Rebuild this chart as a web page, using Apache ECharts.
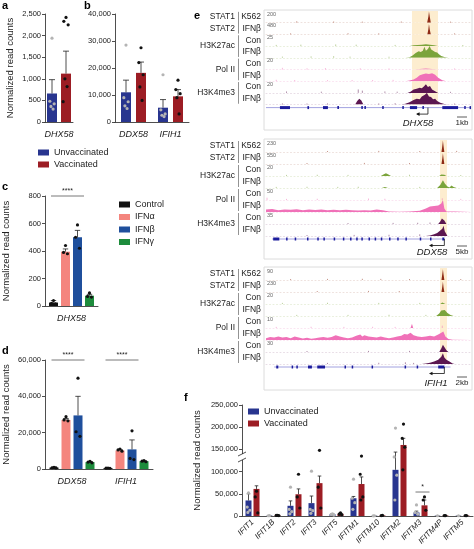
<!DOCTYPE html>
<html>
<head>
<meta charset="utf-8">
<script src="https://cdn.jsdelivr.net/npm/echarts@6/dist/echarts.min.js"></script>
<style>
  html, body { margin: 0; padding: 0; background: #fff; }
  #chart { width: 474px; height: 549px; }
</style>
</head>
<body>
<div id="chart"></div>
<script>
// ---------- data ----------
const vaccGroups = ['Unvaccinated', 'Vaccinated']
const ifnGroups = ['Control', 'IFNα', 'IFNβ', 'IFNγ']

// a
const aCats = ['DHX58']
const aMeans = [[660], [1120]]
const aSems = [[320], [520]]
const aDots = [[[1940, 480, 420, 360, 300]], [[2420, 2330, 2250, 1000, 820, 470]]]

// b
const bCats = ['DDX58', 'IFIH1']
const bMeans = [[11000, 5300], [18200, 9500]]
const bSems = [[4500, 3000], [4000, 2500]]
const bDots = [
  [[28500, 9000, 7500, 6000, 5000], [17500, 4500, 3000, 2500, 2000]],
  [[27500, 22000, 17500, 13000, 8000], [15500, 12000, 10500, 9000, 3000]],
]

// c
const cCats = ['DHX58']
const cMeans = [[25], [395], [500], [75]]
const cSems = [[15], [20], [50], [10]]
const cDots = [[[40, 20, 15]], [[440, 390, 380]], [[590, 500, 420]], [[95, 70, 65]]]

// d
const dCats = ['DDX58', 'IFIH1']
const dMeans = [[800, 500], [27000, 10200], [29500, 10800], [3800, 4300]]
const dSems = [[200, 100], [800, 400], [10500, 5200], [300, 200]]
const dDots = [
  [[900, 700, 600], [500, 450, 400]],
  [[28800, 27000, 26500], [11000, 10500, 9800]],
  [[50000, 20500, 18000], [21000, 5800, 5200]],
  [[4200, 3800, 3400], [4600, 4300, 4000]],
]

// f
const fCats = ['IFIT1', 'IFIT1B', 'IFIT2', 'IFIT3', 'IFIT5', 'IFITM1', 'IFITM10', 'IFITM2', 'IFITM3', 'IFITM4P', 'IFITM5']
const fMeans = [
  [35000, 800, 23000, 29000, 4000, 40000, 500, 104000, 8000, 500, 500],
  [61000, 1500, 49000, 74000, 5000, 72000, 1200, 160000, 24000, 1000, 1000],
]
const fSems = [
  [15000, 300, 11000, 16000, 1500, 4000, 200, 40000, 3000, 200, 200],
  [7000, 400, 12000, 16000, 1500, 16000, 300, 15000, 12000, 300, 300],
]
const fDots = [
  [[52000, 20000, 13000, 8000], [1000, 600], [65000, 15000, 10000, 5000], [101000, 15000, 12000, 6000], [5000, 3500, 2000],
   [83000, 40000, 30000, 15000], [600, 400], [198000, 133000, 92000, 36000], [25000, 8000, 4000], [600], [600]],
  [[56000, 43000, 7000], [1500, 1200, 1000], [94000, 43000, 18000], [148000, 65000, 18000], [7000, 4000, 3000],
   [135000, 94000, 43000, 36000], [1200, 1000], [207000, 175000, 155000, 104000], [43000, 36000, 13000], [1000, 900], [1000, 900]],
]

// significance bars: [category, y, fromGroup, toGroup, label]
const cSig = [[0, 800, 0, 2, '****']]
const dSig = [[0, 60000, 0, 2, '****'], [1, 60000, 0, 2, '****']]
const fSig = [[8, 54000, 0, 1, '*']]

// genome tracks (x: % of window, h: fraction of track scale)
const tracksDHX58 = [
  { profile: [[78.6, 0], [79.2, 0.5], [79.5, 0.95], [79.9, 0.5], [80.4, 0]], spikes: [[15, 0.08], [33, 0.06], [47, 0.05], [66, 0.06], [90, 0.05]] },
  { profile: [[78.7, 0], [79.2, 0.45], [79.5, 0.88], [79.9, 0.4], [80.4, 0]], spikes: [[12, 0.05], [40, 0.06], [55, 0.05], [92, 0.05]] },
  { profile: [[70, 0], [72, 0.08], [74, 0.1], [76, 0.12], [78, 0.15], [80, 0.12], [82, 0.08], [84, 0]], spikes: [[5, 0.06], [17, 0.08], [34, 0.1], [44, 0.08], [63, 0.06], [96, 0.05]] },
  { profile: [[68, 0], [70, 0.05], [71.5, 0.2], [73, 0.4], [74.5, 0.55], [75.5, 0.5], [76.5, 0.6], [77.3, 0.95], [78, 0.6], [79, 0.75], [79.8, 1.0], [80.6, 0.7], [81.5, 0.72], [82.5, 0.5], [83.5, 0.45], [84.5, 0.28], [85.5, 0.15], [87, 0.06], [89, 0]], spikes: [[8, 0.06], [22, 0.08], [33, 0.1], [41, 0.06], [60, 0.05]] },
  { profile: [[72, 0], [75, 0.05], [78, 0.08], [81, 0.05], [84, 0]], spikes: [[8, 0.1], [20, 0.06], [29, 0.08], [46, 0.06], [60, 0.05], [92, 0.05]] },
  { profile: [[68, 0], [70, 0.05], [72, 0.15], [73.5, 0.3], [75, 0.5], [76.5, 0.6], [78, 0.65], [79.5, 0.62], [81, 0.68], [82.5, 0.55], [84, 0.3], [86, 0.08], [88, 0]], spikes: [[5, 0.08], [14, 0.06], [30, 0.05], [42, 0.06], [52, 0.06], [62, 0.07]] },
  { profile: [[69, 0], [70.5, 0.1], [72, 0.3], [73.5, 0.35], [75, 0.45], [76, 0.4], [77, 0.55], [78, 0.75], [79, 0.5], [80, 0.6], [81, 0.3], [82.5, 0.15], [84, 0]], spikes: [[10, 0.08], [27, 0.06], [45, 0.25], [47, 0.15], [58, 0.08], [64, 0.06], [90, 0.05]] },
  { profile: [[43.5, 0], [44.5, 0.3], [45.5, 0.5], [46.5, 0.35], [47.5, 0], [66, 0], [68, 0.08], [70, 0.2], [72, 0.4], [73.5, 0.5], [75, 0.45], [76, 0.7], [77.5, 0.85], [78.5, 1.0], [79.5, 0.7], [80.5, 0.65], [81.5, 0.45], [82.5, 0.5], [83.5, 0.3], [85, 0.15], [87, 0.05], [89, 0]], spikes: [[8, 0.06], [20, 0.05], [30, 0.06], [55, 0.06], [63, 0.08], [92, 0.05]] },
]
const tracksDDX58 = [
  { profile: [[85.6, 0], [86, 0.5], [86.3, 0.95], [86.6, 0.5], [87, 0]], spikes: [[30, 0.04], [55, 0.05], [75, 0.04], [93, 0.05]] },
  { profile: [[85.6, 0], [86, 0.45], [86.3, 0.9], [86.6, 0.45], [87, 0]], spikes: [[20, 0.04], [48, 0.05], [70, 0.04]] },
  { profile: [[56, 0], [57.5, 0.15], [58.5, 0.22], [59.5, 0.15], [61, 0], [84.5, 0], [85.5, 0.12], [86.3, 0.25], [87, 0.1], [88, 0]], spikes: [[10, 0.05], [25, 0.06], [40, 0.05], [70, 0.06], [95, 0.04]] },
  { profile: [[56.5, 0], [58, 0.08], [59.5, 0], [83.5, 0], [85, 0.25], [86.3, 0.65], [87.3, 0.35], [88.5, 0.12], [89.5, 0.05], [90.5, 0.2], [91.5, 0.08], [93, 0]], spikes: [[5, 0.05], [20, 0.06], [35, 0.05], [45, 0.06], [75, 0.05]] },
  { profile: [], spikes: [[0.5, 0.15], [10, 0.05], [25, 0.06], [50, 0.08], [58, 0.06], [86, 0.1], [95, 0.05]] },
  { profile: [[0, 0.2], [3, 0.25], [6, 0.15], [9, 0.2], [12, 0.18], [15, 0.22], [18, 0.15], [21, 0.2], [24, 0.17], [27, 0.2], [30, 0.15], [33, 0.18], [36, 0.14], [39, 0.18], [42, 0.15], [45, 0.12], [48, 0.15], [51, 0.12], [54, 0.2], [57, 0.15], [60, 0.05], [65, 0.03], [70, 0.05], [75, 0.1], [78, 0.3], [80, 0.45], [82, 0.5], [84, 0.55], [85.5, 0.7], [86.3, 1.0], [87, 0.3], [88, 0.05], [92, 0.05], [100, 0.03]], spikes: [] },
  { profile: [[84, 0], [85, 0.2], [85.8, 0.45], [86.4, 0.6], [87, 0.3], [88, 0]], spikes: [[40, 0.04], [62, 0.05], [74, 0.06], [80, 0.08]] },
  { profile: [[78, 0], [80, 0.05], [82, 0.15], [83.5, 0.25], [85, 0.45], [86, 0.6], [86.6, 0.85], [87.2, 0.4], [88.5, 0]], spikes: [[20, 0.04], [43, 0.05], [60, 0.06], [75, 0.1]] },
]
const tracksIFIH1 = [
  { profile: [[85.6, 0], [86, 0.5], [86.3, 0.9], [86.6, 0.45], [87, 0]], spikes: [[12, 0.04], [30, 0.05], [47, 0.06], [56, 0.05], [70, 0.04], [95, 0.04]] },
  { profile: [[85.6, 0], [86, 0.45], [86.3, 0.85], [86.6, 0.4], [87, 0]], spikes: [[25, 0.04], [50, 0.05], [65, 0.04]] },
  { profile: [[85, 0], [86, 0.12], [86.6, 0.18], [87.5, 0]], spikes: [[8, 0.05], [30, 0.06], [55, 0.05], [75, 0.05]] },
  { profile: [[83, 0], [84.5, 0.2], [85.5, 0.45], [86.3, 0.6], [87.2, 0.5], [88.5, 0.25], [90, 0.08], [91.5, 0]], spikes: [[15, 0.05], [40, 0.05], [60, 0.06], [78, 0.05]] },
  { profile: [[70.5, 0], [71.2, 0.35], [71.8, 0]], spikes: [[5, 0.05], [22, 0.06], [38, 0.05], [52, 0.06], [63, 0.05], [86, 0.15]] },
  { profile: [[0, 0.15], [2, 0.25], [4, 0.2], [6, 0.3], [8, 0.2], [10, 0.25], [12, 0.15], [14, 0.3], [16, 0.2], [18, 0.12], [20, 0.18], [22, 0.1], [24, 0.15], [26, 0.2], [28, 0.25], [30, 0.18], [32, 0.25], [34, 0.4], [36, 0.3], [38, 0.2], [40, 0.15], [42, 0.2], [44, 0.35], [46, 0.45], [47, 0.3], [48, 0.4], [50, 0.3], [52, 0.25], [54, 0.2], [56, 0.3], [58, 0.2], [60, 0.15], [62, 0.2], [64, 0.3], [66, 0.35], [67.5, 0.5], [69, 0.45], [70.5, 0.6], [72, 0.4], [74, 0.3], [76, 0.25], [78, 0.3], [80, 0.35], [82, 0.3], [84, 0.45], [85.5, 0.6], [86.5, 0.7], [87.5, 0.3], [89, 0.08], [91, 0.03], [100, 0.02]], spikes: [] },
  { profile: [[84.5, 0], [85.5, 0.3], [86.3, 0.6], [87, 0.5], [88, 0.15], [89, 0]], spikes: [[20, 0.04], [50, 0.05], [70, 0.05]] },
  { profile: [[76, 0], [78, 0.05], [80, 0.1], [82, 0.2], [84, 0.35], [85.5, 0.6], [86.3, 0.9], [87, 0.55], [88, 0.35], [89.5, 0.2], [91, 0.05], [92, 0]], spikes: [[30, 0.05], [55, 0.06], [68, 0.1], [72, 0.05]] },
]

// gene models: exons [from, to], intron span, TSS [x, arrowTo]
const exonsDHX58 = [[6.8, 11.7], [20.2, 21], [27.8, 30.2], [34.8, 35.6], [46.5, 47.2], [48, 48.7], [56.7, 57.4], [66.5, 67.2], [70.2, 73.7], [76.3, 77], [86, 93.7], [96.7, 97.4], [99.3, 100]]
const exonsDDX58 = [[3.5, 6.5], [9.8, 10.5], [14, 14.6], [20, 20.6], [25, 25.6], [28, 28.6], [33, 33.6], [37.5, 38.1], [41, 41.6], [44, 44.6], [46.5, 47.1], [50, 50.6], [53, 53.6], [56, 56.6], [60, 60.6], [64, 64.6], [68, 68.6], [75, 75.6], [80, 80.6], [86, 87]]
const exonsIFIH1 = [[5, 6], [12.5, 13.2], [14.8, 15.5], [20.5, 22.4], [25, 28.8], [38.3, 39], [41.8, 42.4], [51.5, 52.2], [67.6, 68.3], [73.5, 74.2], [84, 87]]
const spanDHX58 = [0, 100], spanDDX58 = [3, 87], spanIFIH1 = [4, 90]
const tssDHX58 = [79, 73.7], tssDDX58 = [87, 80], tssIFIH1 = [87, 80]

const trackGroups = ['STAT1', 'STAT2', 'H3K27ac', 'Pol II', 'H3K4me3']
const trackSubs = ['K562', 'IFNβ', 'Con', 'IFNβ', 'Con', 'IFNβ', 'Con', 'IFNβ']

// ---------- styles ----------
const FONT = 'Liberation Sans'
const INK = '#222'
const vaccColors = ['#28358f', '#9c1d24']
const vaccDotColors = ['#b4b4b4', '#111']
const ifnColors = ['#111', '#f4857e', '#1f4f9c', '#1d8c3c']
const trackColors = ['#8e2a14', '#8e2a14', '#7ba43b', '#7ba43b', '#f071b8', '#f071b8', '#5b1650', '#5b1650']
const baseColors = ['#ead9d4', '#ead9d4', '#e2ebd3', '#e2ebd3', '#f9dded', '#f9dded', '#e2d4df', '#e2d4df']
const fmt = v => String(v).replace(/\B(?=(\d{3})+(?!\d))/g, ',')

const grids = [], xAxes = [], yAxes = [], series = [], graphic = []

const valAxis = (gi, max, interval, nameGap) => ({
  type: 'value', gridIndex: gi, min: 0, max, interval,
  name: 'Normalized read counts', nameLocation: 'middle', nameGap,
  nameTextStyle: { fontSize: 9.5, color: INK, fontFamily: FONT },
  axisLine: { show: true, lineStyle: { color: INK, width: 0.8 } },
  axisTick: { show: true, length: 3, lineStyle: { color: INK, width: 0.8 } },
  axisLabel: { fontSize: 7.5, color: INK, fontFamily: FONT, margin: 4, formatter: fmt },
  splitLine: { show: false },
})
const catAxis = (gi, data, label) => ({
  type: 'category', gridIndex: gi, data,
  axisLine: { lineStyle: { color: INK, width: 0.8 } },
  axisTick: { alignWithLabel: true, length: 3, lineStyle: { color: INK, width: 0.8 } },
  axisLabel: Object.assign({ fontSize: 9, fontStyle: 'italic', color: INK, fontFamily: FONT, margin: 8, interval: 0 }, label),
})

// bar + error + dots for one panel
const jit = [0, -1.2, 1.2, -0.6, 0.6, -1.6, 1.6]
function barPanel(gi, groups, colors, dotColors, means, sems, dots, bw, gap, sig) {
  const n = groups.length
  const offs = groups.map((g, k) => (k - (n - 1) / 2) * (bw + gap))
  groups.forEach((g, k) => {
    const off = offs[k]
    series.push({
      type: 'bar', name: g, xAxisIndex: gi, yAxisIndex: gi, data: means[k],
      barWidth: bw, barGap: (gap / bw * 100) + '%', itemStyle: { color: colors[k] }, z: 2,
    })
    series.push({
      type: 'custom', xAxisIndex: gi, yAxisIndex: gi, z: 3,
      data: means[k].map((m, ci) => [ci, m, m + sems[k][ci]]),
      renderItem: (p, api) => {
        const b = api.coord([api.value(0), api.value(1)])
        const t = api.coord([api.value(0), api.value(2)])
        const x = b[0] + off
        const st = { stroke: INK, lineWidth: 0.8 }
        return { type: 'group', children: [
          { type: 'line', shape: { x1: x, y1: b[1], x2: x, y2: t[1] }, style: st },
          { type: 'line', shape: { x1: x - bw * 0.3, y1: t[1], x2: x + bw * 0.3, y2: t[1] }, style: st },
        ] }
      },
    })
    const pts = []
    dots[k].forEach((vals, ci) => vals.forEach((v, j) => pts.push([ci, v, j])))
    series.push({
      type: 'custom', xAxisIndex: gi, yAxisIndex: gi, z: 4, data: pts,
      renderItem: (p, api) => {
        const c = api.coord([api.value(0), api.value(1)])
        return { type: 'circle', shape: { cx: c[0] + off + jit[api.value(2) % 7] * bw * 0.18, cy: c[1], r: 1.6 }, style: { fill: dotColors[k] } }
      },
    })
  })
  if (sig) {
    series.push({
      type: 'custom', xAxisIndex: gi, yAxisIndex: gi, z: 5, data: sig,
      renderItem: (p, api) => {
        const s = sig[p.dataIndex]
        const c = api.coord([s[0], s[1]])
        const x1 = c[0] + offs[s[2]] - bw / 2 + 2, x2 = c[0] + offs[s[3]] + bw / 2 + 2
        return { type: 'group', children: [
          { type: 'line', shape: { x1, y1: c[1], x2, y2: c[1] }, style: { stroke: '#555', lineWidth: 0.8 } },
          { type: 'text', x: (x1 + x2) / 2, y: c[1] - 1, style: { text: s[4], fontSize: 7, fill: INK, align: 'center', verticalAlign: 'bottom', fontFamily: FONT } },
        ] }
      },
    })
  }
}

// panel a
grids.push({ left: 45, top: 14, width: 28, height: 108 })
xAxes.push(catAxis(0, aCats))
yAxes.push(valAxis(0, 2500, 500, 30))
barPanel(0, vaccGroups, vaccColors, vaccDotColors, aMeans, aSems, aDots, 10, 4)

// panel b
grids.push({ left: 115, top: 14, width: 74, height: 108 })
xAxes.push(catAxis(1, bCats))
yAxes.push(Object.assign(valAxis(1, 40000, 10000, 30), { name: '' }))
barPanel(1, vaccGroups, vaccColors, vaccDotColors, bMeans, bSems, bDots, 10, 5)

// panel c
grids.push({ left: 45, top: 196, width: 53, height: 110 })
xAxes.push(catAxis(2, cCats))
yAxes.push(valAxis(2, 800, 200, 34))
barPanel(2, ifnGroups, ifnColors, ifnColors.map(() => '#111'), cMeans, cSems, cDots, 9, 3, cSig)

// panel d
grids.push({ left: 45, top: 360, width: 108, height: 109 })
xAxes.push(catAxis(3, dCats))
yAxes.push(valAxis(3, 60000, 20000, 34))
barPanel(3, ifnGroups, ifnColors, ifnColors.map(() => '#111'), dMeans, dSems, dDots, 9, 3, dSig)

// panel f
grids.push({ left: 242, top: 405, width: 231, height: 111 })
xAxes.push(catAxis(4, fCats, { rotate: 45, fontSize: 8, margin: 5 }))
yAxes.push(valAxis(4, 250000, 50000, 40))
barPanel(4, vaccGroups, vaccColors, vaccDotColors, fMeans, fSems, fDots, 6, 2, fSig)

// ---------- genome browser blocks ----------
const blocks = [
  { top: 10, bottom: 130, rowH: 11.7, tracks: tracksDHX58, band: [71.2, 83.9], scales: ['200', '480', '25', '', '20', '', '20', ''], exons: exonsDHX58, span: spanDHX58, tss: tssDHX58, gene: 'DHX58', geneX: 418, bar: '1kb' },
  { top: 139, bottom: 259, rowH: 12, tracks: tracksDDX58, band: [84.9, 88.3], scales: ['230', '550', '20', '', '50', '', '35', ''], exons: exonsDDX58, span: spanDDX58, tss: tssDDX58, gene: 'DDX58', geneX: 432, bar: '5kb' },
  { top: 267, bottom: 390, rowH: 12, tracks: tracksIFIH1, band: [84.9, 88.3], scales: ['90', '230', '20', '', '10', '', '30', ''], exons: exonsIFIH1, span: spanIFIH1, tss: tssIFIH1, gene: 'IFIH1', geneX: 436, bar: '2kb' },
]
const TX = 266, TW = 205
const txt = (text, x, y, o) => ({ type: 'text', x, y, z: 50, silent: true, style: Object.assign({ text, fontSize: 8.5, fill: INK, fontFamily: FONT, align: 'right', verticalAlign: 'middle' }, o) })

blocks.forEach(bk => {
  graphic.push({ type: 'rect', z: 0, silent: true, shape: { x: 264, y: bk.top, width: 208, height: bk.bottom - bk.top }, style: { fill: 'none', stroke: '#dcdcdc', lineWidth: 1 } })
  bk.tracks.forEach((trk, r) => {
    const gi = grids.length
    const top = bk.top + 1 + r * bk.rowH
    grids.push({ left: TX, top, width: TW, height: bk.rowH })
    xAxes.push({ type: 'value', gridIndex: gi, min: 0, max: 100, axisLabel: { show: false }, axisTick: { show: false }, splitLine: { show: false }, axisLine: { show: true, lineStyle: { color: baseColors[r], width: 0.8, type: [1, 2.5] } } })
    yAxes.push({ type: 'value', gridIndex: gi, min: 0, max: 1, show: false })
    series.push({
      type: 'line', xAxisIndex: gi, yAxisIndex: gi, z: 3, symbol: 'none',
      data: trk.profile.length ? trk.profile : [[0, 0], [100, 0]],
      lineStyle: { width: 0 }, areaStyle: { color: trackColors[r], opacity: 1 },
      markArea: { silent: true, itemStyle: { color: '#fdedcf' }, data: [[{ xAxis: bk.band[0] }, { xAxis: bk.band[1] }]] },
    })
    series.push({
      type: 'custom', xAxisIndex: gi, yAxisIndex: gi, z: 3, data: trk.spikes,
      renderItem: (p, api) => {
        const a = api.coord([api.value(0), 0]), b = api.coord([api.value(0), api.value(1)])
        return { type: 'line', shape: { x1: a[0], y1: a[1], x2: b[0], y2: b[1] - 0.5 }, style: { stroke: trackColors[r], lineWidth: 0.7, opacity: 0.7 } }
      },
    })
    if (bk.scales[r]) graphic.push(txt(bk.scales[r], 267, top + 3, { fontSize: 5.5, fill: '#666', align: 'left' }))
    graphic.push(txt(trackSubs[r], 261, top + bk.rowH / 2))
  })
  // left group labels and bars
  const rowC = r => bk.top + 1 + r * bk.rowH + bk.rowH / 2
  graphic.push(txt('STAT1', 235, rowC(0)), txt('STAT2', 235, rowC(1)))
  ;[[0, 1], [2, 3], [4, 5], [6, 7]].forEach(([r0, r1], i) => {
    graphic.push({ type: 'line', silent: true, z: 50, shape: { x1: 238.5, y1: rowC(r0) - 5, x2: 238.5, y2: rowC(r1) + 5 }, style: { stroke: '#777', lineWidth: 0.8 } })
    if (i > 0) graphic.push(txt(trackGroups[i + 1], 235, (rowC(r0) + rowC(r1)) / 2))
  })
  // gene model row
  const gi = grids.length
  grids.push({ left: TX, top: bk.top + 1 + 8 * bk.rowH, width: TW, height: 10 })
  xAxes.push({ type: 'value', gridIndex: gi, min: 0, max: 100, show: false })
  yAxes.push({ type: 'value', gridIndex: gi, min: 0, max: 1, show: false })
  series.push({ type: 'line', xAxisIndex: gi, yAxisIndex: gi, symbol: 'none', data: [[bk.span[0], 0.7], [bk.span[1], 0.7]], lineStyle: { color: '#8a8ad8', width: 0.8 }, z: 3 })
  series.push({
    type: 'custom', xAxisIndex: gi, yAxisIndex: gi, z: 4, data: bk.exons,
    renderItem: (p, api) => {
      const a = api.coord([api.value(0), 0.7]), b = api.coord([api.value(1), 0.7])
      return { type: 'rect', shape: { x: a[0], y: a[1] - 1.5, width: Math.max(1.5, b[0] - a[0]), height: 3 }, style: { fill: '#1c1c9c' } }
    },
  })
  series.push({
    type: 'custom', xAxisIndex: gi, yAxisIndex: gi, z: 4, data: [bk.tss],
    renderItem: (p, api) => {
      const a = api.coord([api.value(0), 0.7]), b = api.coord([api.value(1), 0.05])
      return { type: 'group', children: [
        { type: 'polyline', shape: { points: [[a[0], a[1]], [a[0], b[1]], [b[0], b[1]]] }, style: { stroke: '#111', lineWidth: 0.8, fill: 'none' } },
        { type: 'polygon', shape: { points: [[b[0] - 1, b[1]], [b[0] + 2.5, b[1] - 1.8], [b[0] + 2.5, b[1] + 1.8]] }, style: { fill: '#111' } },
      ] }
    },
  })
  graphic.push(txt(bk.gene, bk.geneX, bk.bottom - 7, { align: 'center', fontStyle: 'italic', fontSize: 9.5 }))
  graphic.push({ type: 'line', silent: true, z: 50, shape: { x1: 457, y1: bk.bottom - 13, x2: 467, y2: bk.bottom - 13 }, style: { stroke: '#333', lineWidth: 0.8 } })
  graphic.push(txt(bk.bar, 462, bk.bottom - 7, { align: 'center', fontSize: 8 }))
})

// panel letters
;[['a', 2, 6], ['b', 84, 6], ['c', 2, 187], ['d', 2, 351], ['e', 194, 16], ['f', 184, 398]].forEach(([t, x, y]) => {
  graphic.push(txt(t, x, y, { align: 'left', fontSize: 11, fontWeight: 'bold', fill: '#000' }))
})
// broken axis mark on f
graphic.push({ type: 'rect', silent: true, z: 60, shape: { x: 240, y: 454, width: 4, height: 6 }, style: { fill: '#fff' } })
graphic.push({ type: 'line', silent: true, z: 60, shape: { x1: 238, y1: 456, x2: 246, y2: 452 }, style: { stroke: INK, lineWidth: 0.8 } })
graphic.push({ type: 'line', silent: true, z: 60, shape: { x1: 238, y1: 462, x2: 246, y2: 458 }, style: { stroke: INK, lineWidth: 0.8 } })

const legendBase = { orient: 'vertical', icon: 'rect', itemWidth: 11, itemHeight: 6, itemGap: 3, selectedMode: false, textStyle: { fontSize: 9, color: INK, fontFamily: FONT }, padding: 0 }
const chart = echarts.init(document.getElementById('chart'), null, { renderer: 'canvas' })
chart.setOption({
  animation: false,
  textStyle: { fontFamily: FONT },
  grid: grids, xAxis: xAxes, yAxis: yAxes, series, graphic,
  legend: [
    Object.assign({}, legendBase, { data: vaccGroups, left: 38, top: 148 }),
    Object.assign({}, legendBase, { data: ifnGroups, left: 119, top: 200, itemGap: 3.5 }),
    Object.assign({}, legendBase, { data: vaccGroups, left: 248, top: 407 }),
  ],
})
</script>
</body>
</html>
